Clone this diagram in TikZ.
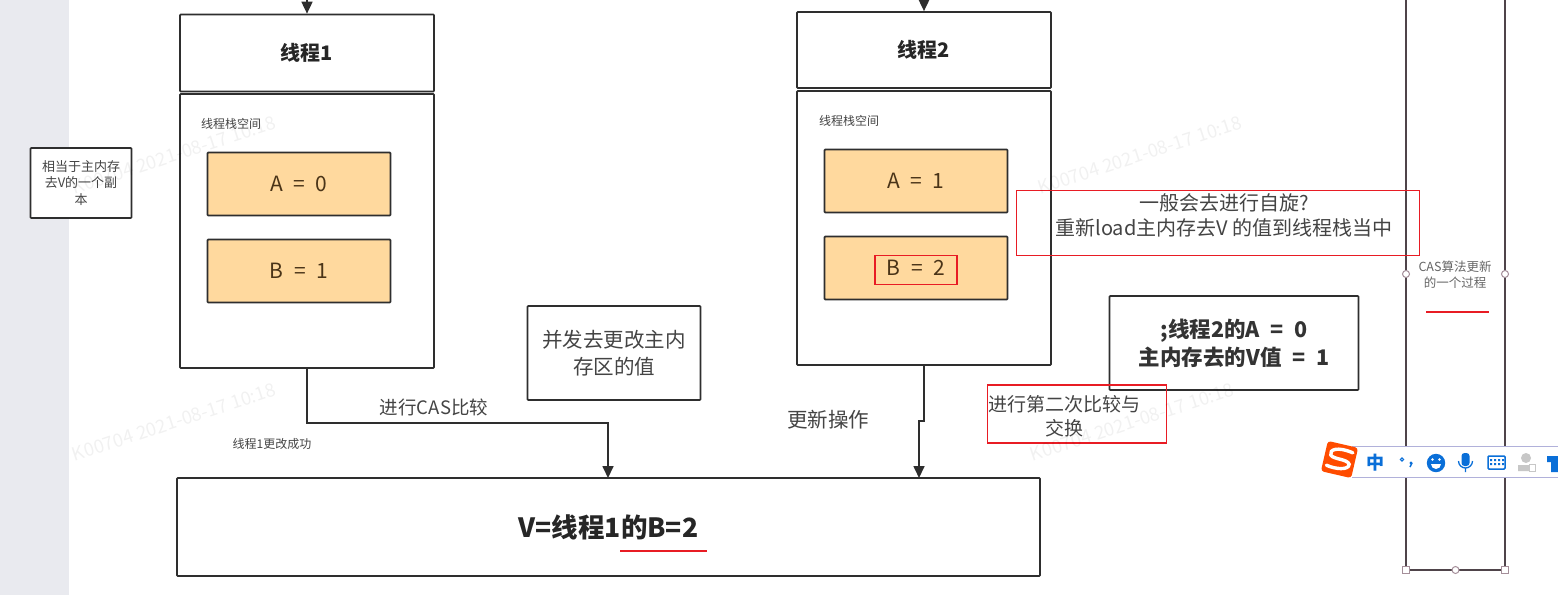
\documentclass[tikz,border=0pt]{standalone}
\usepackage{fontspec}
\setmainfont{Noto Sans CJK SC}
\usetikzlibrary{arrows.meta}
\definecolor{ln}{HTML}{2E2E2E}
\definecolor{org}{HTML}{FFD99E}
\definecolor{redb}{HTML}{E81C24}
\definecolor{txt}{HTML}{444444}
\definecolor{sog}{HTML}{0A6FD8}
\definecolor{side}{HTML}{E9EAEF}
\definecolor{col}{HTML}{4F444A}
\definecolor{handc}{HTML}{A58F9A}
\definecolor{orgtxt}{HTML}{4A3418}
\tikzset{
 x=1pt,y=-1pt,
 boxx/.style={draw=ln,line width=1.7pt,fill=white,inner sep=0pt,rounded corners=0.8pt},
 orangeb/.style={draw=ln,line width=1.7pt,fill=org,inner sep=0pt,text=orgtxt,font=\fontsize{21}{24}\selectfont,rounded corners=0.8pt},
 redbox/.style={draw=redb,line width=1.9pt,inner sep=0pt},
 lbl/.style={text=txt,inner sep=0pt,align=center},
 conn/.style={draw=ln,line width=1.7pt,-{Triangle[length=12pt,width=11pt]}},
 wmk/.style={text=black,opacity=0.055,inner sep=0pt,rotate=18,font=\fontsize{18.5}{20}\selectfont},
 hand/.style={draw=handc,line width=1pt,fill=white,inner sep=0pt,minimum size=7pt},
}
\begin{document}
\begin{tikzpicture}
\useasboundingbox (0,0) rectangle (1558,595);
\fill[white] (0,0) rectangle (1558,595);
\fill[side] (0,0) rectangle (69,595);
% thread 1
\node[boxx,minimum width=254pt,minimum height=77pt,font=\fontsize{20}{24}\selectfont\bfseries,text=black!85] (t1) at (307,53) {线程1};
\node[boxx,minimum width=254pt,minimum height=274pt] (s1) at (307,231) {};
\node[lbl,font=\fontsize{12}{14}\selectfont,anchor=west] (s1l) at (201,124) {线程栈空间};
\node[orangeb,minimum width=183pt,minimum height=63pt] (a1) at (299,184) {A\,\,\,=\,\,\,0};
\node[orangeb,minimum width=183pt,minimum height=63pt] (b1) at (299,271) {B\,\,\,=\,\,\,1};
% thread 2
\node[boxx,minimum width=254pt,minimum height=76pt,font=\fontsize{20}{24}\selectfont\bfseries,text=black!85] (t2) at (924,50) {线程2};
\node[boxx,minimum width=254pt,minimum height=274pt] (s2) at (924,228) {};
\node[lbl,font=\fontsize{12}{14}\selectfont,anchor=west] (s2l) at (819,121) {线程栈空间};
\node[orangeb,minimum width=183pt,minimum height=63pt] (a2) at (916,181) {A\,\,\,=\,\,\,1};
\node[orangeb,minimum width=183pt,minimum height=63pt] (b2) at (916,268) {B\,\,\,=\,\,\,2};
\node[redbox,minimum width=82pt,minimum height=29pt] (b2r) at (916,270) {};
% note left
\node[boxx,lbl,minimum width=101pt,minimum height=70pt,font=\fontsize{13}{16.5}\selectfont] (note) at (81,183) {相当于主内存\\去V的一个副\\本};
% main
\node[boxx,minimum width=863pt,minimum height=98pt,font=\fontsize{26.5}{30}\selectfont\bfseries,text=black!85] (v) at (608.5,527) {V=线程1的B=2};
\coordinate (va) at (608,478);
\coordinate (vb) at (919,478);
\coordinate (top1) at (307,0);
\coordinate (top2) at (924,0);
\draw[conn] (top1) -- (top1 |- t1.north);
\draw[conn] (top2) -- (top2 |- t2.north);
\draw[conn] (top1 |- s1.south) |- (608,423) -- (va);
\draw[conn] (top2 |- s2.south) -- (924,421) -- (919,421) -- (vb);
\draw[redb,line width=2.4pt] (620,551) -- (707,551);
% labels
\node[lbl,font=\fontsize{18.5}{22}\selectfont] (l1) at (434,407) {进行CAS比较};
\node[lbl,font=\fontsize{12}{14}\selectfont] (l2) at (272,444) {线程1更改成功};
\node[lbl,font=\fontsize{20.5}{24}\selectfont] (l3) at (828,420) {更新操作};
\node[boxx,lbl,minimum width=173pt,minimum height=94pt,font=\fontsize{20.5}{27}\selectfont] (conc) at (614,353) {并发去更改主内\\存区的值};
\node[boxx,lbl,minimum width=249pt,minimum height=94pt,font=\fontsize{21.5}{28}\selectfont\bfseries,text=black!80] (cmp) at (1234,343) {;线程2的A\,\,\,=\,\,\,0\\主内存去的V值\,\,\,=\,\,\,1};
\node[redbox,minimum width=179pt,minimum height=58pt] (r2) at (1077,414) {};
\node[lbl,font=\fontsize{19}{24}\selectfont] (l4) at (1064,416) {进行第二次比较与\\交换};
% right column
\draw[col,line width=1.9pt] (1406,0) -- (1406,570) -- (1505,570) -- (1505,0);
\node[hand] (h1) at (1406,570) {};
\node[hand] (h2) at (1505,570) {};
\node[hand,circle] (h3) at (1455.5,570) {};
\node[hand,circle] (h4) at (1406,274) {};
\node[hand,circle] (h5) at (1505,274) {};
\node[lbl,font=\fontsize{12.5}{16}\selectfont,text=black!60] (cas) at (1455,275) {CAS算法更新\\的一个过程};
\draw[redb,line width=2.6pt] (1426,312) -- (1489,312);
% red note
\node[redbox,minimum width=403pt,minimum height=65pt] (r1) at (1218,223) {};
\node[lbl,font=\fontsize{20}{25}\selectfont] (r1t) at (1224,215.5) {一般会去进行自旋?\\重新load主内存去V 的值到线程栈当中};
% watermarks
\foreach \n/\a/\b in {wa/174/155,wb/174/422,wc/1140/155,wd/1132/422}{
 \node[wmk] (\n) at (\a,\b) {K00704 2021-08-17 10:18};}
% IME bar
\fill[white] (1352,446) rectangle (1558,477);
\draw[blue!35!gray!45] (1352,446) -- (1558,446) (1352,477) -- (1558,477);
\fill[orange!60!red,rounded corners=3pt,rotate around={-13:(1339.5,459.5)}] (1324,444) rectangle +(31,31);
\draw[white,line width=3.4pt,line cap=round,rotate around={-13:(1339.5,459.5)}] (1351,450) .. controls (1335,447) and (1327,452) .. (1330,457) .. controls (1333,461) and (1347,457) .. (1350,462) .. controls (1351,468) and (1338,470) .. (1328,468);
\node[text=sog,font=\fontsize{18}{18}\selectfont\bfseries,inner sep=0pt] (zh) at (1375,462.5) {中};
\fill[sog] (1411,463) circle (1.6pt);
\draw[sog,line width=1.4pt] (1412,463) -- (1410,467);
\draw[sog,line width=1pt] (1402,459.5) circle (1.6pt);
\fill[sog] (1436,463) circle (9.2pt);
\fill[white] (1432.5,459.5) circle (1.3pt) (1439.5,459.5) circle (1.3pt);
\fill[white] (1431,464) arc[start angle=180,end angle=360,radius=5pt] -- cycle;
\fill[sog,rounded corners=3pt] (1461.5,453) rectangle (1469.5,466);
\draw[sog,line width=1.3pt] (1458.5,461) arc[start angle=180,end angle=360,radius=7pt] (1465.5,468) -- (1465.5,472);
\draw[sog,line width=1.5pt,rounded corners=1pt,fill=white] (1488,456) rectangle (1505,469);
\foreach \xx in {1491,1495,1499,1503}{\fill[sog] (\xx-1,459) rectangle (\xx+1,461) (\xx-1,463) rectangle (\xx+1,465);}
\fill[black!22] (1526,458) circle (5pt) (1518,471) rectangle (1532,465);
\draw[black!22,fill=white] (1529,464) rectangle (1535,471);
\fill[sog] (1547,456) -- (1558,456) -- (1558,472) -- (1551,472) -- (1551,462) -- (1547,462) -- cycle;
\end{tikzpicture}
\end{document}
